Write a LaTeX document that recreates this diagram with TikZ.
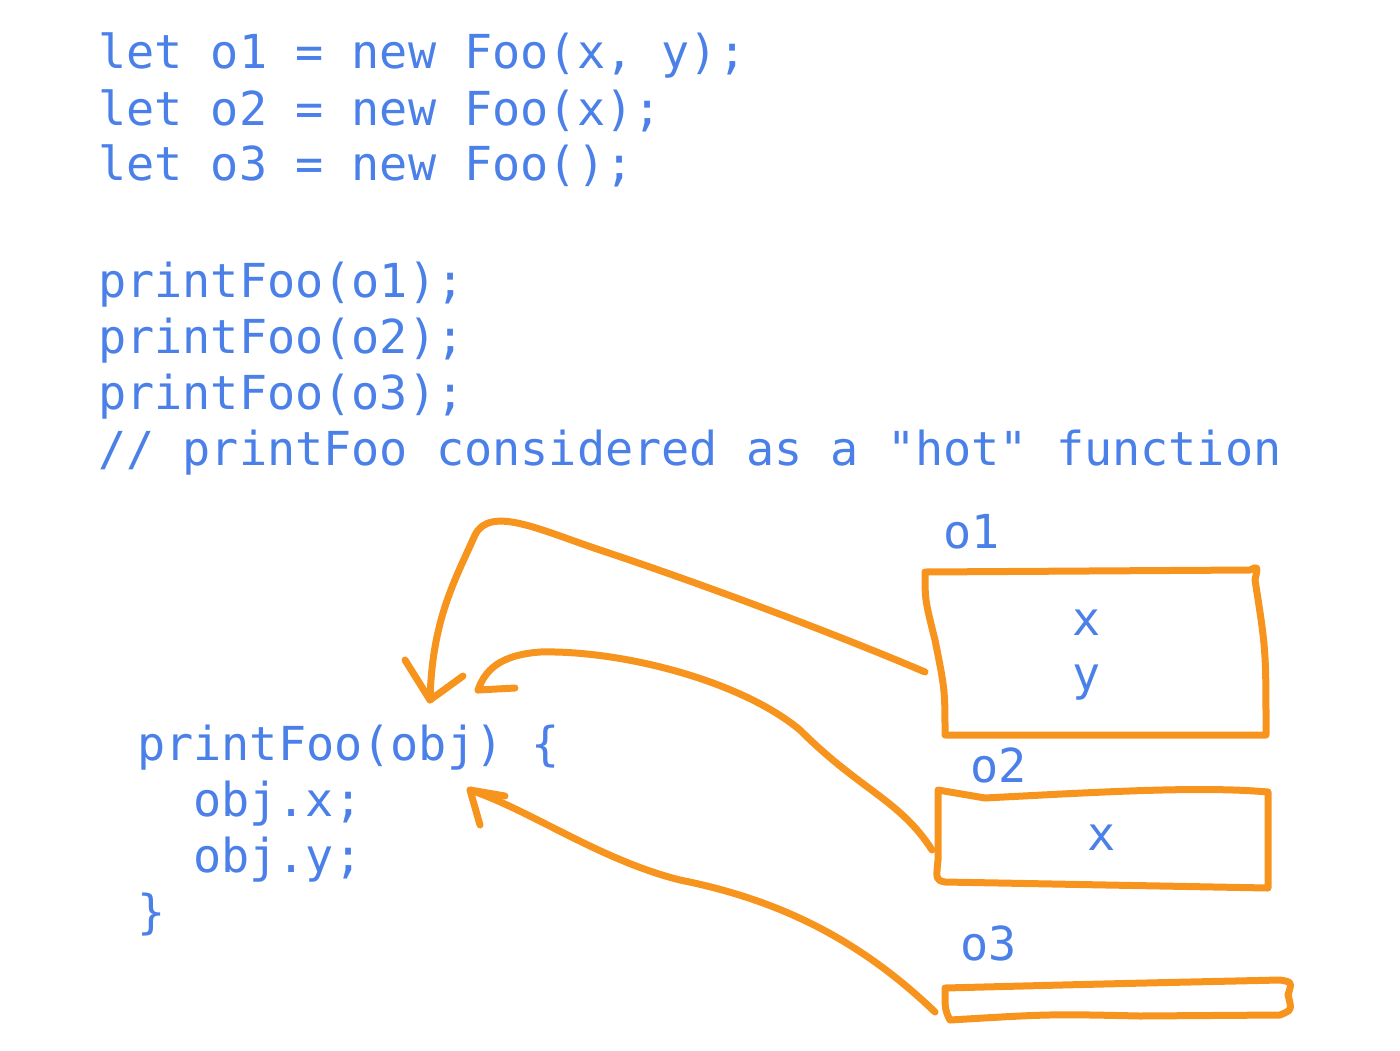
\documentclass[tikz,border=0pt]{standalone}
\usepackage{fontspec}
\setmonofont{DejaVu Sans Mono}
\definecolor{codeblue}{HTML}{4A80E8}
\definecolor{pen}{HTML}{F7941D}
\begin{document}
\begin{tikzpicture}[x=1pt,y=-1pt,
  code/.style={anchor=base west,inner sep=0pt,text=codeblue,font=\ttfamily\fontsize{46.8}{50}\selectfont},
  ink/.style={draw=pen,line width=7pt,line cap=round,line join=round}]
\useasboundingbox (0,0) rectangle (1400,1050);
\node[code] (l1) at (98,68) {let o1 = new Foo(x, y);};
\node[code] (l2) at (98,125) {let o2 = new Foo(x);};
\node[code] (l3) at (98,180) {let o3 = new Foo();};
\node[code] (l5) at (98,297) {printFoo(o1);};
\node[code] (l6) at (98,353) {printFoo(o2);};
\node[code] (l7) at (98,409) {printFoo(o3);};
\node[code] (l8) at (98,465) {// printFoo considered as a "hot" function};
\node[code] (f1) at (137,760) {printFoo(obj) \{};
\node[code] (f2) at (193,816) {obj.x;};
\node[code] (f3) at (193,872) {obj.y;};
\node[code] (f4) at (137,928) {\}};
\node[code] (n1) at (943,548) {o1};
\node[code] (n2) at (970,782) {o2};
\node[code] (n3) at (960,960) {o3};
\node[code] (b1x) at (1072,635) {x};
\node[code] (b1y) at (1072,690) {y};
\node[code] (b2x) at (1087,850) {x};
% boxes
\draw[ink] (925,572) -- (1250,570) .. controls (1258,566) .. (1255,580) .. controls (1266,650) .. (1266,735) -- (945,735) .. controls (945,690) .. (935,640) .. controls (925,600) .. (925,572) -- cycle;
\draw[ink] (938,790) -- (985,798) .. controls (1100,792) and (1200,786) .. (1268,792) -- (1268,888) -- (945,882) .. controls (936,880) .. (938,860) -- cycle;
\draw[ink] (945,988) .. controls (1100,984) .. (1280,980) .. controls (1292,982) .. (1288,995) .. controls (1292,1010) .. (1280,1015) -- (1140,1016) .. controls (1050,1014) .. (950,1020) .. controls (945,1010) .. (945,988) -- cycle;
% connectors
\coordinate (t1) at (430,700);
\coordinate (t2) at (478,690);
\coordinate (t3) at (470,790);
\draw[ink] (925,672) .. controls (850,640) and (720,590) .. (600,550) .. controls (540,530) and (490,505) .. (475,535) .. controls (455,580) and (432,620) .. (t1);
\draw[ink] (405,660) -- (t1) -- (463,676);
\draw[ink] (932,850) .. controls (900,800) and (860,790) .. (800,730) .. controls (740,680) and (620,650) .. (540,652) .. controls (500,655) and (485,670) .. (t2);
\draw[ink] (t2) -- (515,688);
\draw[ink] (935,1012) .. controls (860,940) and (780,900) .. (680,880) .. controls (600,860) and (530,810) .. (t3);
\draw[ink] (505,796) -- (t3) -- (480,825);
\end{tikzpicture}
\end{document}
